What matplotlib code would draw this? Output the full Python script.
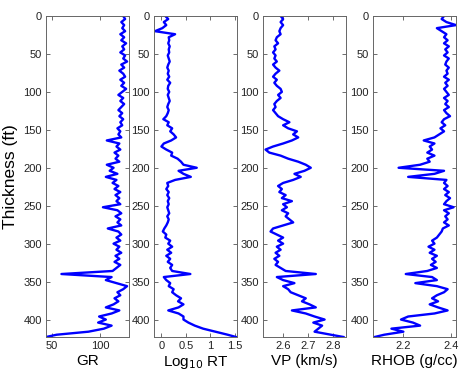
import numpy as np
import matplotlib
matplotlib.use("Agg")
import matplotlib.pyplot as plt

plt.rcParams['font.family'] = ['Liberation Sans', 'DejaVu Sans']

# depth samples (ft), every 4 ft plus the last sample
depth = np.r_[np.arange(0, 421, 4), 423]

gr = [124, 126, 122, 125, 123, 126, 121, 125, 122, 127, 123, 125, 121, 126, 124, 128,
      122, 125, 120, 124, 126, 121, 125, 122, 127, 123, 119, 124, 121, 125, 122, 119,
      123, 120, 124, 121, 123, 118, 121, 119, 122, 107, 120, 117, 121, 115, 119, 116,
      120, 107, 114, 110, 118, 106, 117, 113, 119, 115, 121, 116, 120, 117, 121, 103,
      118, 122, 116, 121, 118, 122, 108, 119, 122, 117, 121, 114, 120, 117, 122, 116,
      120, 115, 121, 117, 113, 60, 112, 106, 117, 128, 124, 118, 121, 115, 119, 114,
      106, 120, 112, 99, 106, 98, 112, 104, 88, 55, 44]

log_rt = [0.08, 0.14, 0.05, 0.10, 0.02, -0.13, 0.28, 0.15, 0.16, 0.14, 0.17, 0.15, 0.16,
          0.13, 0.15, 0.17, 0.14, 0.12, 0.15, 0.13, 0.16, 0.12, 0.18, 0.14, 0.13, 0.16,
          0.13, 0.15, 0.17, 0.14, 0.12, 0.15, 0.13, 0.10, 0.04, 0.15, 0.12, 0.22, 0.18,
          0.25, 0.30, 0.20, 0.05, 0.00, 0.10, 0.22, 0.20, 0.33, 0.40, 0.45, 0.72, 0.35,
          0.45, 0.60, 0.28, 0.12, 0.14, 0.10, 0.15, 0.12, 0.16, 0.13, 0.15, 0.12, 0.14,
          0.16, 0.12, 0.15, 0.13, 0.10, 0.06, 0.03, 0.10, 0.08, 0.18, 0.14, 0.22, 0.12,
          0.20, 0.10, 0.18, 0.13, 0.22, 0.18, 0.22, 0.59, 0.05, 0.10, 0.18, 0.15, 0.25,
          0.22, 0.30, 0.40, 0.34, 0.45, 0.35, 0.14, 0.35, 0.45, 0.45, 0.55, 0.68, 0.85,
          1.10, 1.35, 1.52]

vp = [2.59, 2.60, 2.59, 2.60, 2.59, 2.585, 2.59, 2.575, 2.57, 2.58, 2.565, 2.57, 2.56,
      2.57, 2.565, 2.575, 2.56, 2.57, 2.585, 2.57, 2.56, 2.575, 2.565, 2.575, 2.59, 2.595,
      2.58, 2.59, 2.575, 2.565, 2.57, 2.56, 2.57, 2.58, 2.60, 2.625, 2.60, 2.62, 2.655,
      2.64, 2.66, 2.635, 2.60, 2.56, 2.53, 2.545, 2.59, 2.62, 2.66, 2.69, 2.71, 2.685,
      2.645, 2.67, 2.64, 2.60, 2.58, 2.595, 2.585, 2.61, 2.595, 2.635, 2.60, 2.615, 2.595,
      2.62, 2.61, 2.625, 2.64, 2.60, 2.56, 2.55, 2.575, 2.60, 2.58, 2.60, 2.575, 2.59,
      2.57, 2.585, 2.565, 2.58, 2.57, 2.59, 2.61, 2.73, 2.575, 2.60, 2.645, 2.60, 2.62,
      2.63, 2.66, 2.69, 2.675, 2.705, 2.73, 2.635, 2.69, 2.725, 2.765, 2.72, 2.755, 2.74,
      2.725, 2.79, 2.84]

rhob = [2.37, 2.36, 2.38, 2.42, 2.34, 2.36, 2.38, 2.37, 2.385, 2.37, 2.39, 2.375, 2.385,
        2.37, 2.39, 2.38, 2.375, 2.39, 2.38, 2.385, 2.37, 2.39, 2.375, 2.385, 2.37, 2.38,
        2.39, 2.37, 2.385, 2.375, 2.39, 2.37, 2.38, 2.395, 2.37, 2.36, 2.375, 2.355, 2.37,
        2.35, 2.33, 2.285, 2.33, 2.31, 2.32, 2.30, 2.33, 2.30, 2.31, 2.27, 2.18, 2.37,
        2.33, 2.22, 2.38, 2.37, 2.385, 2.37, 2.39, 2.375, 2.395, 2.38, 2.37, 2.41, 2.37,
        2.39, 2.375, 2.385, 2.37, 2.39, 2.365, 2.36, 2.35, 2.34, 2.32, 2.33, 2.305, 2.33,
        2.31, 2.34, 2.32, 2.335, 2.315, 2.34, 2.30, 2.21, 2.32, 2.34, 2.25, 2.34, 2.385,
        2.37, 2.34, 2.32, 2.345, 2.31, 2.345, 2.385, 2.33, 2.22, 2.19, 2.24, 2.27, 2.15,
        2.20, 2.12, 2.08]

logs = [gr, log_rt, vp, rhob]
labels = ['GR', 'Log$_{10}$ RT', 'VP (km/s)', 'RHOB (g/cc)']
xlims = [(44, 130), (-0.15, 1.54), (2.52, 2.85), (2.073, 2.42)]
xticks = [[50, 100], [0, 0.5, 1, 1.5], [2.6, 2.7, 2.8], [2.2, 2.4]]
xticklabels = [['50', '100'], ['0', '0.5', '1', '1.5'], ['2.6', '2.7', '2.8'], ['2.2', '2.4']]
lefts = [46, 154, 263, 373]

fig = plt.figure(figsize=(4.74, 3.81), dpi=100)
for i in range(4):
    ax = fig.add_axes([lefts[i] / 474, 1 - 337 / 381, 83 / 474, 321 / 381])
    ax.plot(logs[i], depth, color='#0000ff', linewidth=1.7)
    ax.set_ylim(423, 0)
    ax.set_xlim(xlims[i])
    ax.set_yticks([0, 50, 100, 150, 200, 250, 300, 350, 400])
    ax.set_xticks(xticks[i])
    ax.set_xticklabels(xticklabels[i])
    ax.tick_params(direction='in', top=True, right=True, labelsize=8,
                   color='#555555', labelcolor='#222222', length=3, width=0.6, pad=3)
    for s in ax.spines.values():
        s.set_color('#666666')
        s.set_linewidth(0.7)
    ax.set_xlabel(labels[i], fontsize=11, labelpad=2)
    if i == 0:
        ax.set_ylabel('Thickness (ft)', fontsize=12.5, labelpad=4)

plt.savefig('out.png', dpi=100)
